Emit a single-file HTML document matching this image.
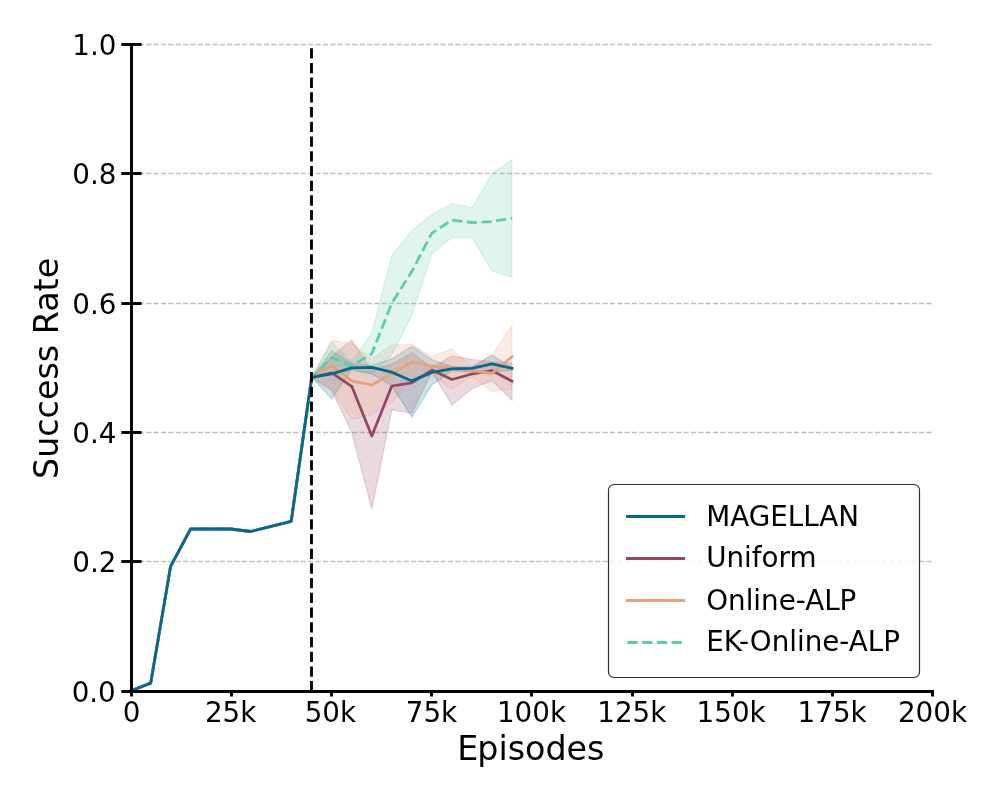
<!DOCTYPE html>
<html lang="en"><head><meta charset="utf-8"><title>Success Rate vs Episodes</title>
<style>
html,body{margin:0;padding:0;background:#fff;}
body{width:1000px;height:800px;overflow:hidden;}
svg{display:block;}
text{font-family:"DejaVu Sans", "Liberation Sans", sans-serif;fill:#000;}
.tick{font-size:27.78px;}
.lab{font-size:33.33px;}
.leg{font-size:27.78px;}
</style></head><body>
<svg width="1000" height="800" viewBox="0 0 1000 800">
<rect width="1000" height="800" fill="#fff"/>

<g stroke="#b0b0b0" stroke-opacity="0.8" stroke-width="1.39" stroke-dasharray="5.14 2.22" fill="none">
<line x1="131.5" y1="44.5" x2="932.5" y2="44.5"/>
<line x1="131.5" y1="173.5" x2="932.5" y2="173.5"/>
<line x1="131.5" y1="303.5" x2="932.5" y2="303.5"/>
<line x1="131.5" y1="432.5" x2="932.5" y2="432.5"/>
<line x1="131.5" y1="561.5" x2="932.5" y2="561.5"/>
</g>
<polygon points="311.73,377.30 331.75,351.00 351.77,363.40 371.80,365.50 391.82,359.00 411.85,346.20 431.88,359.60 451.90,366.50 471.93,367.00 491.95,355.00 511.97,367.50 511.97,370.00 491.95,372.00 471.93,372.00 451.90,371.00 431.88,385.00 411.85,417.20 391.82,386.00 371.80,374.00 351.77,369.40 331.75,399.00 311.73,377.30" fill="#06688a" fill-opacity="0.2" stroke="#06688a" stroke-opacity="0.2" stroke-width="1.39" stroke-linejoin="miter"/>
<!--LINES-->
<polygon points="311.73,377.30 331.75,356.50 351.77,340.00 371.80,370.00 391.82,364.20 411.85,353.00 431.88,367.80 451.90,356.00 471.93,359.40 491.95,361.90 511.97,363.10 511.97,400.00 491.95,380.60 471.93,388.80 451.90,405.00 431.88,371.50 411.85,413.30 391.82,409.80 371.80,508.70 351.77,432.20 331.75,390.30 311.73,377.30" fill="#984665" fill-opacity="0.2" stroke="#984665" stroke-opacity="0.2" stroke-width="1.39" stroke-linejoin="miter"/>
<polygon points="311.73,377.30 331.75,340.30 351.77,343.40 371.80,359.00 391.82,345.00 411.85,344.30 431.88,356.30 451.90,349.00 471.93,366.50 491.95,355.50 511.97,325.30 511.97,388.50 491.95,391.30 471.93,376.50 451.90,388.80 431.88,376.00 411.85,378.00 391.82,403.00 371.80,414.50 351.77,419.50 331.75,390.00 311.73,377.30" fill="#e6a176" fill-opacity="0.2" stroke="#e6a176" stroke-opacity="0.2" stroke-width="1.39" stroke-linejoin="miter"/>
<polygon points="311.73,377.30 331.75,342.20 351.77,362.50 371.80,333.00 391.82,255.60 411.85,230.60 431.88,214.40 451.90,203.40 471.93,207.80 491.95,173.50 511.97,160.00 511.97,277.50 491.95,270.80 471.93,237.50 451.90,237.50 431.88,253.80 411.85,315.50 391.82,354.70 371.80,374.00 351.77,370.60 331.75,365.00 311.73,377.30" fill="#5dccab" fill-opacity="0.2" stroke="#5dccab" stroke-opacity="0.2" stroke-width="1.39" stroke-linejoin="miter"/>
<polyline points="130.50,691.00 150.70,683.10 170.60,566.30 190.60,529.00 210.60,529.00 230.60,529.00 250.70,531.50 271.00,526.40 291.20,521.30 311.73,377.30 331.75,372.80 351.77,386.30 371.80,436.00 391.82,386.00 411.85,382.80 431.88,370.10 451.90,379.50 471.93,374.00 491.95,370.60 511.97,381.20" fill="none" stroke="#984665" stroke-width="2.78" stroke-linejoin="round" stroke-linecap="square"/>
<polyline points="130.50,691.00 150.70,683.10 170.60,566.30 190.60,529.00 210.60,529.00 230.60,529.00 250.70,531.50 271.00,526.40 291.20,521.30 311.73,377.30 331.75,365.60 351.77,380.80 371.80,385.00 391.82,373.60 411.85,362.10 431.88,366.00 451.90,368.30 471.93,370.60 491.95,373.50 511.97,356.60" fill="none" stroke="#e6a176" stroke-width="2.78" stroke-linejoin="round" stroke-linecap="square"/>
<polyline points="130.50,691.00 150.70,683.10 170.60,566.30 190.60,529.00 210.60,529.00 230.60,529.00 250.70,531.50 271.00,526.40 291.20,521.30 311.73,377.30 331.75,357.50 351.77,365.90 371.80,353.80 391.82,303.00 411.85,271.50 431.88,233.10 451.90,220.00 471.93,222.50 491.95,221.60 511.97,218.10" fill="none" stroke="#5dccab" stroke-width="2.78" stroke-dasharray="10.28 4.44" stroke-dashoffset="-0.3" stroke-linejoin="round" stroke-linecap="butt"/>
<polyline points="130.50,691.00 150.70,683.10 170.60,566.30 190.60,529.00 210.60,529.00 230.60,529.00 250.70,531.50 271.00,526.40 291.20,521.30 311.73,377.30 331.75,373.80 351.77,367.80 371.80,367.30 391.82,372.20 411.85,380.90 431.88,372.40 451.90,368.80 471.93,368.30 491.95,363.80 511.97,368.30" fill="none" stroke="#06688a" stroke-width="2.78" stroke-linejoin="round" stroke-linecap="square"/>
<line x1="311.5" y1="691.4" x2="311.5" y2="44.6" stroke="#000" stroke-width="2.85" stroke-dasharray="10.28 4.44"/>
<g stroke="#000" stroke-width="2.9" stroke-linecap="square" fill="none">
<line x1="131.5" y1="44.5" x2="131.5" y2="691.5"/>
<line x1="131.5" y1="691.5" x2="932.5" y2="691.5"/>
</g>
<g stroke="#000" stroke-width="2.9" stroke-linecap="butt" fill="none">
<line x1="121.3" y1="44.5" x2="141.6" y2="44.5"/>
<line x1="121.3" y1="173.5" x2="141.6" y2="173.5"/>
<line x1="121.3" y1="303.5" x2="141.6" y2="303.5"/>
<line x1="121.3" y1="432.5" x2="141.6" y2="432.5"/>
<line x1="121.3" y1="561.5" x2="141.6" y2="561.5"/>
<line x1="121.3" y1="691.5" x2="141.6" y2="691.5"/>
<line x1="131.5" y1="691.5" x2="131.5" y2="696.5"/>
<line x1="231.5" y1="691.5" x2="231.5" y2="696.5"/>
<line x1="331.5" y1="691.5" x2="331.5" y2="696.5"/>
<line x1="431.5" y1="691.5" x2="431.5" y2="696.5"/>
<line x1="531.5" y1="691.5" x2="531.5" y2="696.5"/>
<line x1="632.5" y1="691.5" x2="632.5" y2="696.5"/>
<line x1="732.5" y1="691.5" x2="732.5" y2="696.5"/>
<line x1="832.5" y1="691.5" x2="832.5" y2="696.5"/>
<line x1="932.5" y1="691.5" x2="932.5" y2="696.5"/>
</g>
<g class="tick" text-anchor="end">
<text x="116.4" y="54.7">1.0</text>
<text x="116.4" y="183.7">0.8</text>
<text x="116.4" y="313.7">0.6</text>
<text x="116.4" y="442.7">0.4</text>
<text x="116.4" y="571.7">0.2</text>
<text x="115.8" y="701.7">0.0</text>
</g>
<g class="tick" text-anchor="middle">
<text x="131.5" y="721.7">0</text>
<text x="230.6" y="721.7">25k</text>
<text x="330.4" y="721.7">50k</text>
<text x="431.5" y="721.7">75k</text>
<text x="531.5" y="721.7">100k</text>
<text x="631.8" y="721.7">125k</text>
<text x="731.1" y="721.7">150k</text>
<text x="832.1" y="721.7">175k</text>
<text x="932.5" y="721.7">200k</text>
</g>
<text class="lab" x="457.3" y="760.4" dx="0 -1.1">Episodes</text>
<text class="lab" text-anchor="middle" transform="translate(57.5,368.4) rotate(-90)">Success Rate</text>
<rect x="608.5" y="484.5" width="311" height="193" rx="5.56" ry="5.56" fill="#fff" fill-opacity="0.8" stroke="#303030" stroke-width="1.2"/>
<line x1="627.4" y1="516.5" x2="683.7" y2="516.5" stroke="#06688a" stroke-width="2.78" stroke-linecap="square"/>
<text class="leg" x="706.2" y="525.9">MAGELLAN</text>
<line x1="627.4" y1="558.5" x2="683.7" y2="558.5" stroke="#984665" stroke-width="2.78" stroke-linecap="square"/>
<text class="leg" x="706.2" y="567.4">Uniform</text>
<line x1="627.4" y1="600.5" x2="683.7" y2="600.5" stroke="#e6a176" stroke-width="2.78" stroke-linecap="square"/>
<text class="leg" x="706.2" y="609.7">Online-ALP</text>
<line x1="627.4" y1="642.5" x2="683" y2="642.5" stroke="#5dccab" stroke-width="2.78" stroke-dasharray="10.28 4.44"/>
<text class="leg" x="706.2" y="651.0">EK-Online-ALP</text>
</svg></body></html>
